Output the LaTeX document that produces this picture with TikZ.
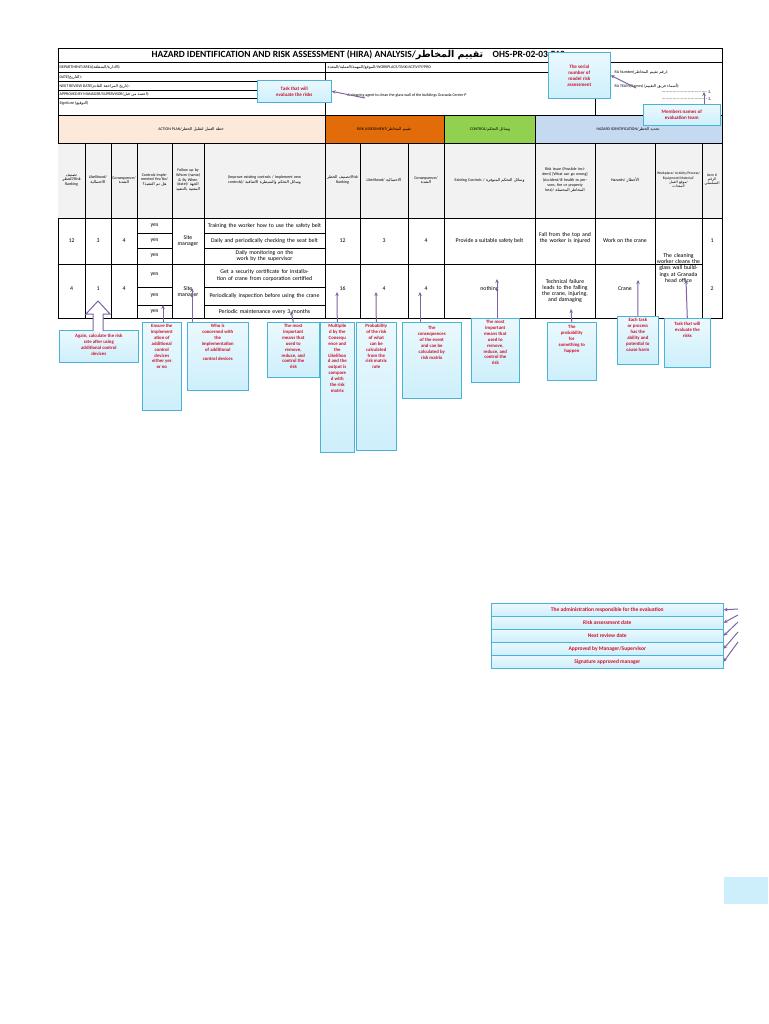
\documentclass[tikz,border=0pt]{standalone}
\usepackage{fontspec}
\setmainfont{Carlito}
\newfontfamily\arabicfont[Script=Arabic]{DejaVu Sans}
\TeXXeTstate=1
\usetikzlibrary{arrows.meta}
\newcommand{\AR}[1]{{\arabicfont\beginR #1\endR}}
\definecolor{callfill}{HTML}{CDEFFB}
\definecolor{callline}{HTML}{4AB4D8}
\definecolor{calltext}{HTML}{D0102A}
\definecolor{arr}{HTML}{8064A2}
\definecolor{apfill}{HTML}{FDE9D9}
\definecolor{rafill}{HTML}{E26B0A}
\definecolor{ctfill}{HTML}{92D050}
\definecolor{hzfill}{HTML}{C5D9F1}
\definecolor{hdfill}{HTML}{F2F2F2}
\tikzset{
 grid/.style={draw=black,line width=0.5pt},
 tx/.style={font=\fontsize{4}{4.6}\selectfont,align=center,inner sep=0.5pt},
 cell/.style={font=\fontsize{5.8}{6.2}\selectfont,align=center,inner sep=0.5pt},
 callout/.style={draw=callline,line width=0.6pt,top color=callfill!40,bottom color=callfill,
   font=\bfseries\fontsize{5}{6}\selectfont,text=calltext,align=center,inner sep=1pt,anchor=north west},
 box/.style={draw=callline,line width=0.6pt,top color=callfill!40,bottom color=callfill,anchor=north west,inner sep=0pt},
 btxt/.style={font=\bfseries\fontsize{4.8}{5.9}\selectfont,text=calltext,align=center,inner sep=0pt,anchor=north},
 callarrow/.style={draw=arr,line width=1pt,-{Stealth[length=4pt,width=3.5pt]}},
}
\begin{document}
\begin{tikzpicture}[x=1pt,y=-1pt]
\useasboundingbox (0,0) rectangle (768,1024);
\fill[white] (0,0) rectangle (768,1024);
% title
\node[font=\bfseries\fontsize{9.5}{10}\selectfont,anchor=west] (title) at (148,55) {HAZARD IDENTIFICATION AND RISK ASSESSMENT (HIRA) ANALYSIS/\AR{تقييم المخاطر}\quad OHS-PR-02-03-F12};
% outer and info rows
\draw[grid] (58,48) rectangle (722,318);
\draw[grid] (58,62) -- (722,62);
\draw[grid] (58,72)--(325,72) (58,81)--(325,81) (58,90)--(325,90) (58,98)--(325,98);
\draw[grid] (325,62)--(325,115) (595,62)--(595,115) (325,72)--(595,72);
\draw[grid] (58,115)--(722,115);
\node[tx,anchor=west] (dep) at (59,67) {DEPARTMENT/AREA(\AR{الادارة/المنطقة}):};
\node[tx,anchor=west] (dat) at (59,77) {DATE(\AR{التاريخ}):};
\node[tx,anchor=west] (nrd) at (59,86) {NEXT REVIEW DATE(\AR{تاريخ المراجعة القادم}):};
\node[tx,anchor=west] (apb) at (59,94) {APPROVED BY MANAGER/SUPERVISOR(\AR{اعتمد من قبل}):};
\node[tx,anchor=west] (sig) at (59,103) {Signiture (\AR{التوقيع})};
\node[tx,anchor=west] (wp) at (327,67) {\AR{الموقع/المهمة/العملية/المعدة}/WORKPLACE/TASK/ACTIVITY/PRO};
\node[tx,anchor=west] (task) at (347,95) {A cleaning agent to clean the glass wall of the buildings Granada Center P};
\node[tx,anchor=west] (ran) at (614,72) {RA Number(\AR{رقم تقييم المخاطر}):};
\node[tx,anchor=west] (rat) at (614,86) {RA TEAM(Names) (\AR{أسماء فريق التقييم}):};
\node[tx,anchor=east] (r2) at (712,92) {-------------------------------------- 2.};
\node[tx,anchor=east] (r3) at (712,99) {-------------------------------------- 3.};
% group headers
\fill[apfill] (58,115) rectangle (325,143);
\fill[rafill] (325,115) rectangle (444,143);
\fill[ctfill] (444,115) rectangle (535,143);
\fill[hzfill] (535,115) rectangle (722,143);
\fill[hdfill] (58,143) rectangle (722,218);
\draw[grid] (58,115) rectangle (722,143);
\draw[grid] (325,115)--(325,143) (444,115)--(444,143) (535,115)--(535,143);
\node[tx] (hap) at (191,129) {ACTION PLAN/\AR{خطة العمل لتقليل الخطر}};
\node[tx] (hra) at (384,129) {RISK ASSESSMENT/\AR{تقييم المخاطر}};
\node[tx] (hct) at (490,129) {CONTROL/\AR{وسائل التحكم}};
\node[tx] (hhz) at (628,129) {HAZARD IDENTIFICATION/\AR{تحديد الخطر}};
% columns
\foreach \x in {85,111,137,172,204,325,360,408,444,535,595,655,702}{\draw[grid] (\x,143)--(\x,318);}
\draw[grid] (58,218)--(722,218) (58,264)--(702,264);
\draw[grid] (137,233)--(172,233) (137,248)--(172,248) (137,287)--(172,287) (137,305)--(172,305);
\draw[grid] (204,233)--(325,233) (204,248)--(325,248) (204,287)--(325,287) (204,305)--(325,305);
% column headers
\node[tx,text width=25pt] (h1) at (71.5,180) {\AR{تصنيف الخطر}/Risk Ranking};
\node[tx,text width=25pt] (h2) at (98,180) {Likelihood/ \AR{الاحتمالية}};
\node[tx,text width=25pt] (h3) at (124,180) {Consequence/ \AR{الشدة}};
\node[tx,text width=33pt] (h4) at (154.5,180) {Controls Implemented Yes/No/ \AR{هل تم التنفيذ؟}};
\node[tx,text width=30pt] (h5) at (188,180) {Follow up by Whom (name) \& By When (date)/ \AR{الجهة المعنية بالتنفيذ}};
\node[tx,text width=115pt] (h6) at (264.5,180) {(Improve existing controls / Implement new controls)/ \AR{وسائل التحكم والسيطرة الاضافية}};
\node[tx,text width=33pt] (h7) at (342.5,180) {\AR{تصنيف الخطر}/Risk Ranking};
\node[tx,text width=45pt] (h8) at (384,180) {Likelihood/ \AR{الاحتمالية}};
\node[tx,text width=34pt] (h9) at (426,180) {Consequence/ \AR{الشدة}};
\node[tx,text width=88pt] (h10) at (489.5,180) {Existing Controls / \AR{وسائل التحكم المتوفرة}};
\node[tx,text width=58pt] (h11) at (565,180) {Risk Issue (Possible Incident) [What can go wrong]\\[2pt](Accident/ill health to persons, fire or property loss)/ \AR{المخاطر المحتملة}};
\node[tx,text width=58pt] (h12) at (625,180) {Hazards/ \AR{الأخطار}};
\node[tx,text width=44pt,font=\fontsize{3.6}{4.2}\selectfont] (h13) at (678.5,180) {Workplace/ Activity/Process/ Equipment/Material/\\\AR{موقع العمل}/\\\AR{المعدات}};
\node[tx,text width=18pt,font=\fontsize{3.6}{4.2}\selectfont] (h14) at (712,180) {Item \#\\\AR{الرقم}\\\AR{التسلسلي}};
% row 1
\node[cell] (a1) at (71.5,241) {12};
\node[cell] (b1) at (98,241) {3};
\node[cell] (c1) at (124,241) {4};
\node[cell] (y11) at (154.5,225.5) {yes};
\node[cell] (y12) at (154.5,240.5) {yes};
\node[cell] (y13) at (154.5,256) {yes};
\node[cell] (f1) at (188,241) {Site\\manager};
\node[cell,text width=115pt] (n11) at (264.5,225.5) {Training the worker how to use the safety belt};
\node[cell,text width=115pt] (n12) at (264.5,240.5) {Daily and periodically checking the seat belt};
\node[cell,text width=115pt] (n13) at (264.5,256) {Daily monitoring on the work by the supervisor};
\node[cell] (g1) at (342.5,241) {12};
\node[cell] (l1) at (384,241) {3};
\node[cell] (k1) at (426,241) {4};
\node[cell] (e1) at (489.5,241) {Provide a suitable safety belt};
\node[cell,text width=58pt] (i1) at (565,238) {Fall from the top and the worker is injured};
\node[cell] (z1) at (625,241) {Work on the crane};
\node[cell,text width=45pt] (w1) at (678.5,268) {The cleaning worker cleans the glass wall buildings at Granada head office};
\node[cell] (it1) at (712,241) {1};
% row 2
\node[cell] (a2) at (71.5,289) {4};
\node[cell] (b2) at (98,289) {1};
\node[cell] (c2) at (124,289) {4};
\node[cell] (y21) at (154.5,275) {yes};
\node[cell] (y22) at (154.5,296) {yes};
\node[cell] (y23) at (154.5,311.5) {yes};
\node[cell] (f2) at (188,292) {Site\\manager};
\node[cell,text width=115pt] (n21) at (264.5,275.5) {Get a security certificate for installation of crane from corporation certified};
\node[cell,text width=115pt] (n22) at (264.5,296) {Periodically inspection before using the crane};
\node[cell,text width=115pt] (n23) at (264.5,311.5) {Periodic maintenance every 3 months};
\node[cell] (g2) at (342.5,289) {16};
\node[cell] (l2) at (384,289) {4};
\node[cell] (k2) at (426,289) {4};
\node[cell] (e2) at (489.5,289) {nothing};
\node[cell,text width=56pt] (i2) at (565,291) {Technical failure leads to the falling the crane, injuring, and damaging};
\node[cell] (z2) at (625,289) {Crane};
\node[cell] (it2) at (712,289) {2};
% top callouts
\node[callout,minimum width=74pt,minimum height=22pt] (cA) at (257,80) {Task that will\\evaluate the risks};
\node[callout,minimum width=62pt,minimum height=46pt] (cB) at (548,52) {The serial\\number of\\model risk\\assessment};
\node[callout,minimum width=77pt,minimum height=21pt] (cC) at (643,104) {Members names of\\evaluation team};
\coordinate (pA) at (365,98); \draw[callarrow] (pA) -- (cA.east);
\coordinate (pB) at (636,88); \draw[callarrow] (pB) -- (cB.east);
\coordinate (pC) at (704,92); \coordinate (qC) at (704,104); \draw[callarrow] (qC) -- (pC);
% bottom callouts: box then text at top
\node[box,minimum width=79pt,minimum height=32pt] (d1) at (59,330) {};
\node[btxt,below=4pt] (d1t) at (d1.north) {Again, calculate the risk\\rate after using\\additional control\\devices};
\node[box,minimum width=39pt,minimum height=88pt] (d2) at (142,322) {};
\node[btxt,below=2pt] (d2t) at (d2.north) {Ensure the\\implement\\ation of\\additional\\control\\devices\\either yes\\or no};
\node[box,minimum width=61pt,minimum height=68pt] (d3) at (187,322) {};
\node[btxt,below=2pt] (d3t) at (d3.north) {Who is\\concerned with\\the\\implementation\\of additional\\[3pt]control devices};
\node[box,minimum width=52pt,minimum height=55pt] (d4) at (267,322) {};
\node[btxt,below=2pt] (d4t) at (d4.north) {The most\\important\\means that\\used to\\remove,\\reduce, and\\control the\\risk};
\node[box,minimum width=34pt,minimum height=130pt] (d5) at (320,322) {};
\node[btxt,below=2pt] (d5t) at (d5.north) {Multiplie\\d by the\\Consequ\\ence and\\the\\Likelihoo\\d and the\\output is\\compare\\d with\\the risk\\matrix};
\node[box,minimum width=40pt,minimum height=128pt] (d6) at (356,322) {};
\node[btxt,below=2pt] (d6t) at (d6.north) {Probability\\of the risk\\of what\\can be\\calculated\\from the\\risk matrix\\rate};
\node[box,minimum width=59pt,minimum height=76pt] (d7) at (402,322) {};
\node[btxt,below=4pt] (d7t) at (d7.north) {The\\consequences\\of the event\\and can be\\calculated by\\risk matrix};
\node[box,minimum width=48pt,minimum height=64pt] (d8) at (471,318) {};
\node[btxt,below=2pt] (d8t) at (d8.north) {The most\\important\\means that\\used to\\remove,\\reduce, and\\control the\\risk};
\node[box,minimum width=49pt,minimum height=58pt] (d9) at (547,322) {};
\node[btxt,below=3pt] (d9t) at (d9.north) {The\\probability\\for\\something to\\happen};
\node[box,minimum width=41pt,minimum height=48pt] (d10) at (617,316) {};
\node[btxt,below=2pt] (d10t) at (d10.north) {Each task\\or process\\has the\\ability and\\potential to\\cause harm};
\node[box,minimum width=46pt,minimum height=49pt] (d11) at (664,318) {};
\node[btxt,below=4pt] (d11t) at (d11.north) {Task that will\\evaluate the\\risks};
% arrows from callouts
\draw[arr,line width=1pt,fill=white] (93,331)--(93,314)--(86,314)--(98,301)--(110,314)--(103,314)--(103,331);
\coordinate (t2) at (163,305); \coordinate (s2) at (163,322); \draw[callarrow] (s2) -- (t2);
\coordinate (t3) at (192,288); \coordinate (s3) at (192,322); \draw[callarrow] (s3) -- (t3);
\coordinate (t4) at (291,311); \draw[callarrow] (d4.north) -- (t4);
\coordinate (t5) at (337,292); \draw[callarrow] (d5.north) -- (t5);
\coordinate (t6) at (376,292); \draw[callarrow] (d6.north) -- (t6);
\coordinate (t7) at (420,292); \coordinate (s7) at (420,322); \draw[callarrow] (s7) -- (t7);
\coordinate (t8) at (497,279); \coordinate (s8) at (497,318); \draw[callarrow] (s8) -- (t8);
\coordinate (t9) at (571,309); \draw[callarrow] (d9.north) -- (t9);
\coordinate (t10) at (638,280); \draw[callarrow] (d10.north) -- (t10);
\coordinate (t11) at (686,280); \draw[callarrow] (d11.north) -- (t11);
% bottom right boxes
\tikzset{rb/.style={callout,minimum width=232pt,minimum height=13pt,font=\bfseries\fontsize{5.5}{6}\selectfont}}
\node[rb] (e1b) at (491,603) {The administration responsible for the evaluation};
\node[rb] (e2b) at (491,616) {Risk assessment date};
\node[rb] (e3b) at (491,629) {Next review date};
\node[rb] (e4b) at (491,642) {Approved by Manager/Supervisor};
\node[rb] (e5b) at (491,655) {Signature approved manager};
\coordinate (o1) at (738,609); \draw[callarrow] (o1) -- (e1b.east);
\coordinate (o2) at (738,615); \draw[callarrow] (o2) -- (e2b.east);
\coordinate (o3) at (738,622); \draw[callarrow] (o3) -- (e3b.east);
\coordinate (o4) at (738,632); \draw[callarrow] (o4) -- (e4b.east);
\coordinate (o5) at (738,642); \draw[callarrow] (o5) -- (e5b.east);
\fill[callfill] (724,877) rectangle (768,904);
\end{tikzpicture}
\end{document}
